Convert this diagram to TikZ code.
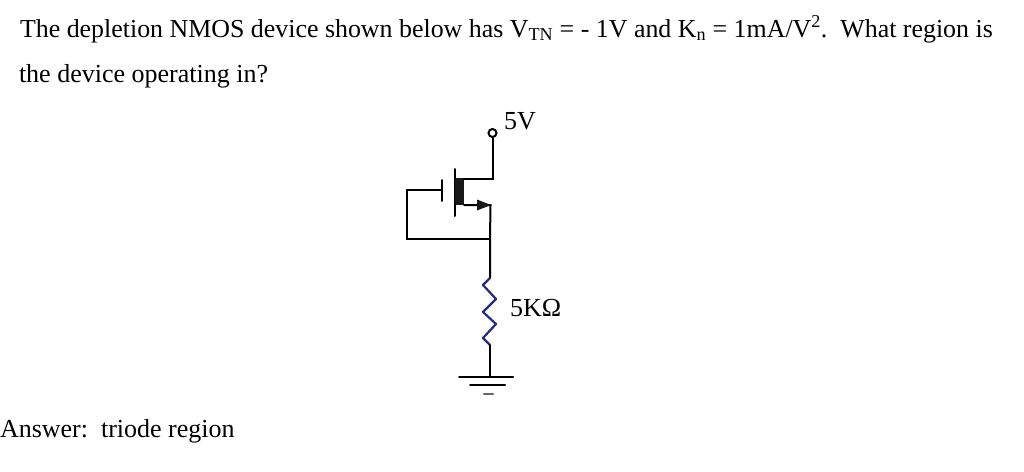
\documentclass[tikz,border=0pt]{standalone}
\usepackage{fontspec}
\setmainfont{Liberation Serif}
\definecolor{resblue}{RGB}{38,44,120}
\tikzset{
  wire/.style={line width=2pt,black,line cap=round,line join=miter},
  txt/.style={inner sep=0pt,outer sep=0pt,anchor=base west,font=\fontsize{26}{26}\selectfont},
}
\begin{document}
\begin{tikzpicture}[x=1pt,y=-1pt]
\useasboundingbox (0,0) rectangle (1024,471);
\fill[white] (0,0) rectangle (1024,471);
\node[txt,font=\fontsize{25.9}{26}\selectfont] (l1) at (20,37) {The depletion NMOS device shown below has V\textsubscript{TN} = - 1V and K\textsubscript{n} = 1mA/V\textsuperscript{2}.\ \ What region is};
\node[txt] (l2) at (19,82) {the device operating in?};
\node[txt] (ans) at (0,437) {Answer:\ \ triode region};
\node[txt] (v5) at (504,129) {5V};
\node[txt] (r5) at (510,316) {5KΩ};
\node[draw,circle,wire,fill=white,minimum size=8pt,inner sep=0pt] (vdd) at (492.5,133) {};
\coordinate (dc) at (492.5,179);
\coordinate (dm) at (464,179);
\coordinate (sm) at (464,205);
\coordinate (sc) at (490.5,205);
\coordinate (jn) at (490,239);
\coordinate (rt) at (490,278);
\coordinate (rb) at (490,345);
\coordinate (gg) at (490,377);
\coordinate (gp) at (442,190);
\coordinate (gl) at (407,190);
\coordinate (gb) at (407,239);
\coordinate (gpt) at (442,180); \coordinate (gpb) at (442,201);
\coordinate (cht) at (455,169); \coordinate (chb) at (455,216);
\draw[wire] (gpt) -- (gpb);
\draw[wire] (cht) -- (chb);
\fill[black!90] (455,178) rectangle (464,205);
\draw[wire] (vdd) -- (dc) -- (dm);
\draw[wire] (sm) -- (sc) -- (jn) -- (rt);
\fill[black!90] (491,205) -- (477,199.5) -- (477,210.5) -- cycle;
\draw[wire] (gp) -- (gl) -- (gb) -- (jn);
\draw[line width=2.2pt,resblue,line join=round] (rt) -- (483,285) -- (496,299) -- (483,312) -- (496,324) -- (483,338) -- (rb);
\draw[wire] (rb) -- (gg);
\coordinate (g1a) at (459,377); \coordinate (g1b) at (513,377);
\coordinate (g2a) at (470,385); \coordinate (g2b) at (505,385);
\coordinate (g3a) at (484,394); \coordinate (g3b) at (493,394);
\draw[wire] (g1a) -- (g1b);
\draw[wire] (g2a) -- (g2b);
\draw[wire,line width=2.4pt,black!60] (g3a) -- (g3b);
\end{tikzpicture}
\end{document}
